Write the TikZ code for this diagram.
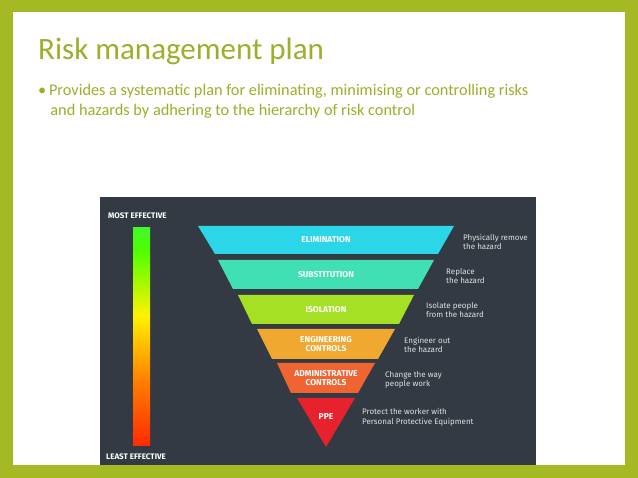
\documentclass[tikz,border=0pt]{standalone}
\usepackage{fontspec}
\setmainfont{Carlito}
\newfontfamily\fira{Fira Sans}
\pgfdeclareverticalshading{riskbar}{100bp}{color(0bp)=(red!85!black);color(20bp)=(red!90!orange);color(40bp)=(orange);color(55bp)=(yellow!90!orange);color(70bp)=(green!70!yellow);color(100bp)=(cyan!80!blue!90)}
\definecolor{olive}{HTML}{A4B924}
\definecolor{titlec}{HTML}{9AB02A}
\definecolor{panel}{HTML}{333A44}
\definecolor{cElim}{HTML}{2AD6E8}
\definecolor{cSub}{HTML}{40E0B4}
\definecolor{cIso}{HTML}{A6E024}
\definecolor{cEng}{HTML}{F0A830}
\definecolor{cAdm}{HTML}{F06432}
\definecolor{cPPE}{HTML}{E8222C}
\tikzset{
 band/.style={draw=none},
 blabel/.style={font=\fira\bfseries\fontsize{8.5}{9.5}\selectfont, text=white, align=center},
 rlabel/.style={font=\fira\fontsize{8}{9.5}\selectfont, text=white!88!black, align=left, anchor=west, inner sep=0},
 endlabel/.style={font=\fira\bfseries\fontsize{8}{9}\selectfont, text=white, anchor=west, inner sep=0}
}
\begin{document}
\begin{tikzpicture}[x=1pt,y=-1pt]
\useasboundingbox (0,0) rectangle (638,478);
\fill[olive] (0,0) rectangle (638,478);
\fill[white] (13,12) rectangle (625,465);
\node[anchor=base west, inner sep=0, text=titlec, font=\fontsize{31}{36}\selectfont] (title) at (38,60) {Risk management plan};
\node[anchor=north west, inner sep=0, text=titlec, align=left, font=\fontsize{16.3}{20}\selectfont] (body) at (38,84) {\textbullet\,Provides a systematic plan for eliminating, minimising or controlling risks\\\hspace*{0.75em}and hazards by adhering to the hierarchy of risk control};
\fill[panel] (100,197) rectangle (536,465);
\shade[shading=riskbar] (133,228) rectangle (150,446);
\node[endlabel] (most) at (108,216) {MOST EFFECTIVE};
\node[endlabel] (least) at (106,457) {LEAST EFFECTIVE};
% bands
\fill[cElim] (198,226) -- (454,226) -- (438,254) -- (215,254) -- cycle;
\fill[cSub] (218,260) -- (434,260) -- (418,289) -- (233,289) -- cycle;
\fill[cIso] (238,295) -- (414,295) -- (399,324) -- (252,324) -- cycle;
\fill[cEng] (257,329) -- (395,329) -- (378,359) -- (272,359) -- cycle;
\fill[cAdm] (277,363) -- (375,363) -- (358,393) -- (291,393) -- cycle;
\fill[cPPE] (297,398) -- (355,398) -- (326,447) -- cycle;
\node[blabel] (elim) at (326,240) {ELIMINATION};
\node[blabel] (sub) at (326,275) {SUBSTITUTION};
\node[blabel] (iso) at (326,310) {ISOLATION};
\node[blabel] (eng) at (326,344) {ENGINEERING\\CONTROLS};
\node[blabel] (adm) at (326,378) {ADMINISTRATIVE\\CONTROLS};
\node[blabel] (ppe) at (326,417) {PPE};
\node[rlabel] (l1) at (463,242) {Physically remove\\the hazard};
\node[rlabel] (l2) at (446,276) {Replace\\the hazard};
\node[rlabel] (l3) at (426,310) {Isolate people\\from the hazard};
\node[rlabel] (l4) at (404,345) {Engineer out\\the hazard};
\node[rlabel] (l5) at (385,380) {Change the way\\people work};
\node[rlabel] (l6) at (362,417) {Protect the worker with\\Personal Protective Equipment};
\end{tikzpicture}
\end{document}
